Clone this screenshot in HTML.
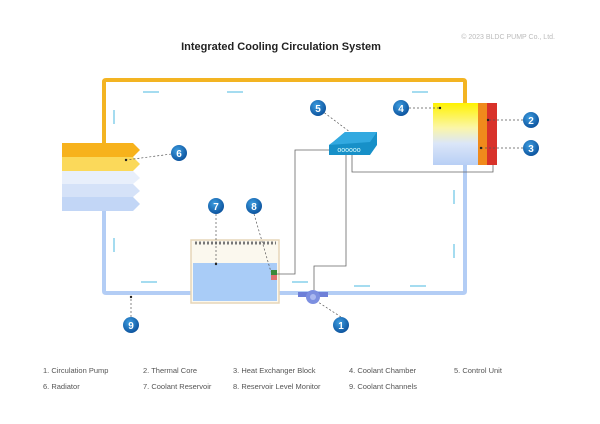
<!DOCTYPE html>
<html><head><meta charset="utf-8"><style>
html,body{margin:0;padding:0;background:#fff;width:600px;height:424px;overflow:hidden}
svg{display:block}
text{font-family:"Liberation Sans",sans-serif}
</style></head><body>
<svg width="600" height="424" viewBox="0 0 600 424" xmlns="http://www.w3.org/2000/svg">
<defs>
<linearGradient id="ch" x1="0" y1="0" x2="0" y2="1"><stop offset="0" stop-color="#fff200"/><stop offset="0.4" stop-color="#fbf6a8"/><stop offset="0.65" stop-color="#dbe6f8"/><stop offset="1" stop-color="#b8cff5"/></linearGradient>
<radialGradient id="bc" cx="0.4" cy="0.35" r="0.7"><stop offset="0" stop-color="#3d9de0"/><stop offset="1" stop-color="#0a4f9a"/></radialGradient>
</defs>
<text x="555" y="39" font-size="7" fill="#bbb" text-anchor="end">© 2023 BLDC PUMP Co., Ltd.</text>
<text x="281" y="50" font-size="11" font-weight="bold" fill="#222" text-anchor="middle">Integrated Cooling Circulation System</text>
<path d="M104 143 V82 Q104 80 106 80 H463 Q465 80 465 82 V103" fill="none" stroke="#f3b422" stroke-width="4"/>
<path d="M104 210 V291 Q104 293 106 293 H192 M278 293 H463 Q465 293 465 291 V165" fill="none" stroke="#b3cdf5" stroke-width="4"/>
<g stroke="#4bb8e0" stroke-width="1" fill="#4bb8e0">
<path d="M143 92 h16 M227 92 h16 M412 92 h16 M114 110 v14 M114 238 v14 M141 282 h16 M292 282 h16 M354 286 h16 M410 286 h16 M454 190 v14 M454 244 v14"/>
</g>
<g>
<polygon points="62,143 133,143 140,150 133,157 62,157" fill="#f7b21c"/>
<polygon points="62,157 133,157 140,164 133,171 62,171" fill="#fbd95a"/>
<polygon points="62,171 133,171 140,178 133,184 62,184" fill="#e8effb"/>
<polygon points="62,184 133,184 140,191 133,197 62,197" fill="#d5e2f8"/>
<polygon points="62,197 133,197 140,204 133,211 62,211" fill="#c2d6f6"/>
</g>
<rect x="191" y="240" width="88" height="63" fill="#fbf8ee" stroke="#e6d5b8" stroke-width="1.5"/>
<rect x="193" y="263" width="84" height="38" fill="#a9ccf7"/>
<line x1="195" y1="243" x2="276" y2="243" stroke="#777" stroke-width="3" stroke-dasharray="2,2"/>
<rect x="271" y="270" width="6" height="5" fill="#3a8a3a"/><rect x="271" y="275" width="6" height="5" fill="#e07070"/>
<g fill="none" stroke="#666" stroke-width="0.8">
<path d="M330 150 H295 V274 H277"/>
<path d="M346 153 V266 H314 V290"/>
<path d="M352 153 V172 H493 V165"/>
</g>
<rect x="298" y="292" width="30" height="5" fill="#6d7fd8"/>
<circle cx="313" cy="297" r="7" fill="#7c8fe0"/><circle cx="313" cy="297" r="3" fill="#aab8f0"/>
<rect x="433" y="103" width="45" height="62" fill="url(#ch)"/>
<rect x="478" y="103" width="9" height="62" fill="#f08a1c"/>
<rect x="487" y="103" width="10" height="62" fill="#d8322a"/>
<polygon points="333,142 345,132 377,132 377,145 370,155 329,155 329,145" fill="#1790c8"/>
<polygon points="329,145 333,142 345,132 377,132 370,142 329,145" fill="#32a9e0"/>
<text x="349" y="152" font-size="7" fill="#dff" text-anchor="middle">oooooo</text>
<g stroke="#555" stroke-width="0.7" stroke-dasharray="2,2" fill="none">
<path d="M131 317 V297"/><path d="M341 317 L318 302"/><path d="M216 214 V264"/><path d="M254 214 L271 272"/>
<path d="M179 153 L126 160"/><path d="M318 108 L350 132"/><path d="M409 108 H440"/>
<path d="M523 120 H488"/><path d="M523 148 H481"/>
</g>
<g fill="#222"><circle cx="126" cy="160" r="1.2"/><circle cx="440" cy="108" r="1.2"/><circle cx="488" cy="120" r="1.2"/><circle cx="481" cy="148" r="1.2"/><circle cx="216" cy="264" r="1.2"/><circle cx="131" cy="297" r="1.2"/></g>
<g font-size="10" font-weight="bold" fill="#fff" text-anchor="middle">
<g><circle cx="341" cy="325" r="8" fill="url(#bc)"/><text x="341" y="329">1</text></g>
<g><circle cx="531" cy="120" r="8" fill="url(#bc)"/><text x="531" y="124">2</text></g>
<g><circle cx="531" cy="148" r="8" fill="url(#bc)"/><text x="531" y="152">3</text></g>
<g><circle cx="401" cy="108" r="8" fill="url(#bc)"/><text x="401" y="112">4</text></g>
<g><circle cx="318" cy="108" r="8" fill="url(#bc)"/><text x="318" y="112">5</text></g>
<g><circle cx="179" cy="153" r="8" fill="url(#bc)"/><text x="179" y="157">6</text></g>
<g><circle cx="216" cy="206" r="8" fill="url(#bc)"/><text x="216" y="210">7</text></g>
<g><circle cx="254" cy="206" r="8" fill="url(#bc)"/><text x="254" y="210">8</text></g>
<g><circle cx="131" cy="325" r="8" fill="url(#bc)"/><text x="131" y="329">9</text></g>
</g>
<g font-size="7.5" fill="#555">
<text x="43" y="373">1. Circulation Pump</text><text x="143" y="373">2. Thermal Core</text><text x="233" y="373">3. Heat Exchanger Block</text><text x="349" y="373">4. Coolant Chamber</text><text x="454" y="373">5. Control Unit</text>
<text x="43" y="389">6. Radiator</text><text x="143" y="389">7. Coolant Reservoir</text><text x="233" y="389">8. Reservoir Level Monitor</text><text x="349" y="389">9. Coolant Channels</text>
</g>
</svg>
</body></html>
